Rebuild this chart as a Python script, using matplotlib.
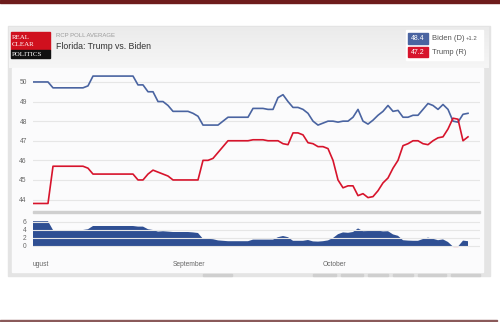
import matplotlib
matplotlib.use('Agg')
from matplotlib import pyplot as plt
from matplotlib.patches import Rectangle
import numpy as np
import pandas as pd

plt.rcParams['font.family'] = ['Liberation Sans', 'DejaVu Sans']

# daily RCP averages, Florida
dates = pd.date_range('2020-08-04', periods=88, freq='D')
biden = [50.0, 50.0, 50.0, 50.0, 49.7, 49.7, 49.7, 49.7, 49.7, 49.7,
         49.7, 49.8, 50.3, 50.3, 50.3, 50.3, 50.3, 50.3, 50.3, 50.3,
         50.3, 49.85, 49.85, 49.5, 49.5, 49.0, 49.0, 48.8, 48.5, 48.5,
         48.5, 48.5, 48.4, 48.25, 47.8, 47.8, 47.8, 47.8, 48.0, 48.2,
         48.2, 48.2, 48.2, 48.2, 48.65, 48.65, 48.65, 48.6, 48.6, 49.2,
         49.35, 49.0, 48.7, 48.7, 48.6, 48.4, 48.0, 47.8, 47.9, 48.0,
         48.0, 47.95, 48.0, 48.0, 48.2, 48.6, 48.0, 47.85, 48.05, 48.3,
         48.5, 48.8, 48.5, 48.55, 48.2, 48.2, 48.3, 48.3, 48.6, 48.9,
         48.8, 48.6, 48.85, 48.6, 48.0, 47.95, 48.35, 48.4]
trump = [43.8, 43.8, 43.8, 43.8, 45.7, 45.7, 45.7, 45.7, 45.7, 45.7,
         45.7, 45.6, 45.3, 45.3, 45.3, 45.3, 45.3, 45.3, 45.3, 45.3,
         45.3, 45.0, 45.0, 45.3, 45.5, 45.4, 45.3, 45.2, 45.0, 45.0,
         45.0, 45.0, 45.0, 45.0, 46.0, 46.0, 46.1, 46.4, 46.7, 47.0,
         47.0, 47.0, 47.0, 47.0, 47.05, 47.05, 47.05, 47.0, 47.0, 47.0,
         46.85, 46.8, 47.4, 47.4, 47.3, 46.9, 46.85, 46.7, 46.7, 46.6,
         46.0, 45.0, 44.6, 44.7, 44.7, 44.2, 44.3, 44.1, 44.15, 44.45,
         44.85, 45.1, 45.6, 46.0, 46.75, 46.85, 47.0, 47.0, 46.85, 46.8,
         47.0, 47.15, 47.2, 47.6, 48.15, 48.1, 47.0, 47.2]
month_ticks = ['2020-08-04', '2020-09-01', '2020-10-01']
month_labels = ['ugust', 'September', 'October']

biden = np.array(biden)
trump = np.array(trump)
spread = biden - trump

BLUE = '#4a64a1'
RED = '#d7142c'
W, H = 500, 322

def box(x0, y0, x1, y1):
    # pixel box -> figure fraction [left, bottom, width, height]
    return [x0 / W, 1 - y1 / H, (x1 - x0) / W, (y1 - y0) / H]

fig = plt.figure(figsize=(5, 3.22), dpi=100)

# background in pixel coordinates
bg = fig.add_axes([0, 0, 1, 1])
bg.set_xlim(0, W)
bg.set_ylim(H, 0)
bg.axis('off')
bg.add_patch(Rectangle((0, 0), W, 3, color='#6e1c1c'))
bg.add_patch(Rectangle((0, 319.5), 497, 1.2, color='#8a5a5a'))
bg.add_patch(Rectangle((8, 26), 482, 250, color='#e4e4e4'))
grad = np.linspace(0, 1, 50).reshape(-1, 1)
bg.imshow(grad, cmap=matplotlib.colors.LinearSegmentedColormap.from_list('g', ['#ebebeb', '#f6f6f6']),
          extent=(9, 489, 68, 27), aspect='auto', zorder=1)
bg.add_patch(Rectangle((12, 68), 471, 204, color='#fbfbfc', zorder=2))
bg.set_xlim(0, W)
bg.set_ylim(H, 0)

# logo
bg.add_patch(Rectangle((11, 32), 39, 18, color='#d0101e', zorder=3))
bg.add_patch(Rectangle((11, 50), 39, 8, color='#111111', zorder=3))
for txt, yy in [('REAL', 37), ('CLEAR', 44.5), ('POLITICS', 54)]:
    bg.text(12, yy, txt, color='white', fontsize=5, family='Liberation Serif',
            va='center', ha='left', zorder=4)

bg.text(56, 35.5, 'RCP POLL AVERAGE', color='#9a9a9a', fontsize=4.3, va='center', zorder=4)
bg.text(56, 46.5, 'Florida: Trump vs. Biden', color='#333333', fontsize=6.3, va='center', zorder=4)

# legend box
bg.add_patch(Rectangle((406, 30), 77, 30, color='white', zorder=3))
bg.add_patch(Rectangle((408, 33), 20, 11, color=BLUE, zorder=4))
bg.add_patch(Rectangle((408, 47), 20, 10, color=RED, zorder=4))
bg.text(418, 38.5, f'{biden[-1]:.1f}', color='white', fontsize=5, ha='center', va='center', zorder=5)
bg.text(418, 52, f'{trump[-1]:.1f}', color='white', fontsize=5, ha='center', va='center', zorder=5)
bg.text(432, 38.5, 'Biden (D)', color='#555555', fontsize=5.5, va='center', zorder=5)
bg.text(466, 38.5, f'+{spread[-1]:.1f}', color='#555555', fontsize=4.3, va='center', zorder=5)
bg.text(432, 52, 'Trump (R)', color='#555555', fontsize=5.5, va='center', zorder=5)

# separator + buttons
bg.add_patch(Rectangle((33, 211), 447, 2, color='#cfcfcf', zorder=3))
for bx0, bx1 in [(203, 232), (313, 336), (341, 363), (368, 388), (393, 413), (418, 446), (451, 480)]:
    bg.add_patch(Rectangle((bx0, 274), bx1 - bx0, 2, color='#cfcfcf', zorder=3))

x0 = dates[0]
xmax = dates[0] + pd.Timedelta(days=89.4)

# main chart
ax = fig.add_axes(box(33, 70, 480, 207))
ax.patch.set_alpha(0)
ax.plot(dates, biden, color=BLUE, lw=1.2, zorder=3)
ax.plot(dates, trump, color=RED, lw=1.2, zorder=3)
ax.set_xlim(x0, xmax)
ax.set_ylim(43.62, 50.61)
ax.set_yticks(range(44, 51))
ax.grid(axis='y', color='#e6e6e6', lw=0.8)
ax.tick_params(length=0, labelsize=4.8, labelcolor='#666666', pad=4.5)
ax.set_xticks([])
for s in ax.spines.values():
    s.set_visible(False)

# spread chart
ax2 = fig.add_axes(box(33, 214, 480, 250))
ax2.patch.set_alpha(0)
ax2.fill_between(dates, 0, spread, where=spread >= 0, color='#2f4f93', lw=0, interpolate=True)
ax2.fill_between(dates, 0, spread, where=spread < 0, color=RED, lw=0, interpolate=True)
ax2.set_xlim(x0, xmax)
ax2.set_ylim(-1, 8)
ax2.set_yticks([0, 2, 4, 6])
ax2.grid(axis='y', color='#e6e6e6', lw=0.8)
ax2.set_xticks(pd.to_datetime(month_ticks))
ax2.set_xticklabels(month_labels, ha='left')
ax2.tick_params(length=0, labelsize=4.8, labelcolor='#666666')
ax2.tick_params(axis='y', pad=4.5)
ax2.tick_params(axis='x', pad=8)
for s in ax2.spines.values():
    s.set_visible(False)

fig.savefig('out.png', dpi=100)
